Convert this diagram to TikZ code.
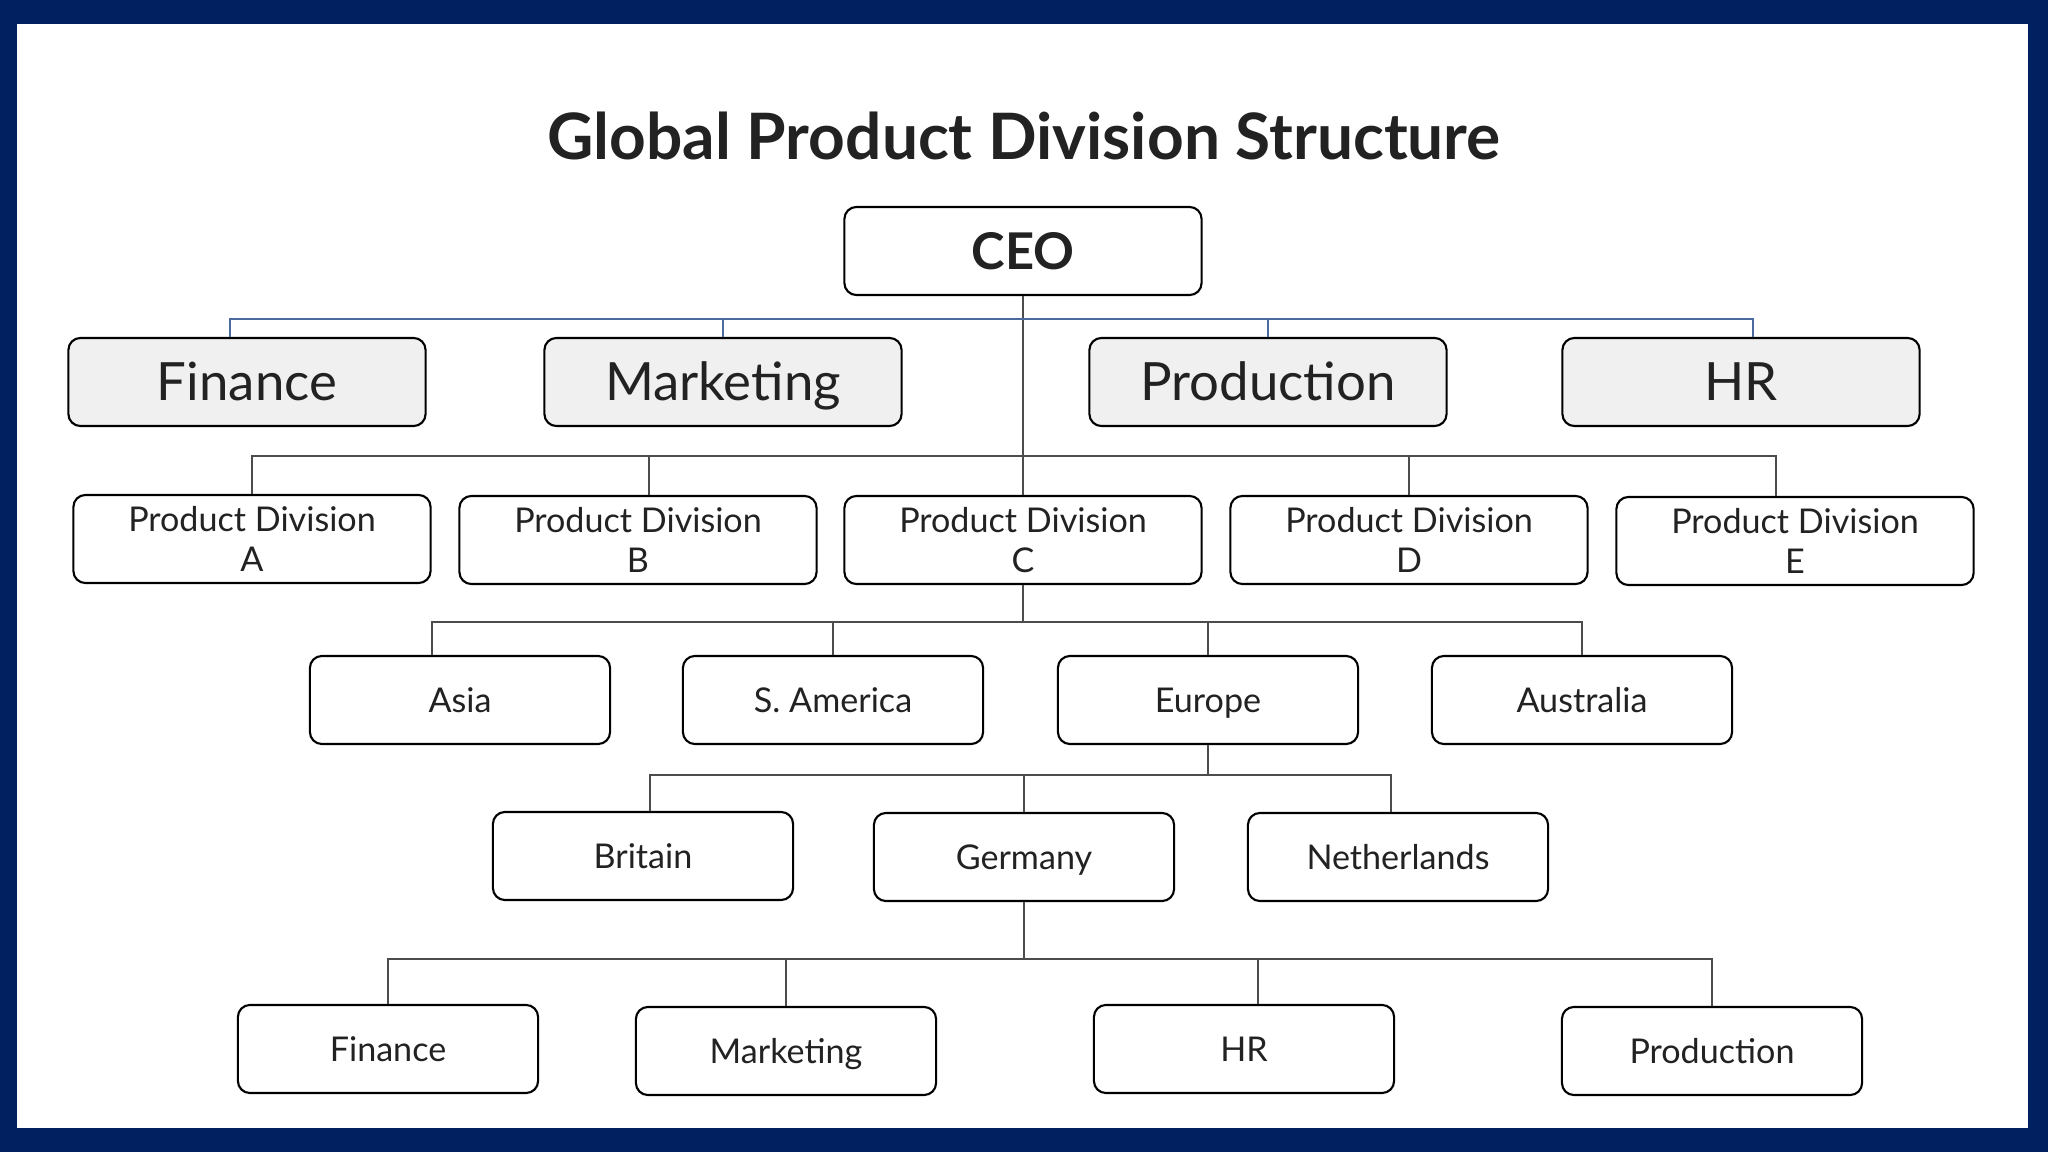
\documentclass[tikz,border=0pt]{standalone}
\usepackage{fontspec}
\setmainfont{Lato}
\definecolor{frame}{RGB}{0,32,96}
\definecolor{barblue}{RGB}{74,106,160}
\definecolor{deptgray}{RGB}{240,240,240}
\definecolor{ink}{RGB}{34,34,34}
\newcommand{\orgbox}[5]{\node[#1](#2) at (#3,-#4) {#5};}

\begin{document}
\begin{tikzpicture}[x=0.01cm,y=0.01cm,
	box/.style={draw=black,rounded corners=0.12cm,line width=0.6pt,text=ink,inner sep=0pt,
		minimum width=3cm,minimum height=0.88cm,font=\fontsize{9.7}{11.3}\selectfont,
		text height=7pt,text depth=0pt},
	wide/.style={box,minimum width=3.57cm},
	dept/.style={wide,fill=deptgray,font=\fontsize{15}{17}\selectfont,text height=10.8pt},
	pdiv/.style={wide,align=center,text height=,text depth=},
	link/.style={draw=black!70,line width=0.35pt},
	bluelink/.style={draw=barblue,line width=0.35pt}]
	\useasboundingbox (0,0) rectangle (2048,-1152);
	\fill[frame] (0,0) rectangle (2048,-1152);
	\fill[white] (17,-24) rectangle (2028,-1128);

	\node[text=ink,font=\fontsize{18.2}{22}\selectfont\bfseries,text height=13.1pt,text depth=0pt] (title) at (1024,-136) {Global Product Division Structure};

	\orgbox{wide,font=\fontsize{14.4}{16}\selectfont\bfseries,text height=10.4pt}{ceo}{1023}{251}{CEO}

	\orgbox{dept}{fin}{247}{382}{Finance}
	\orgbox{dept}{mkt}{723}{382}{Marketing}
	\orgbox{dept}{prod}{1268}{382}{Production}
	\orgbox{dept}{hr}{1741}{382}{HR}

	\orgbox{pdiv}{pda}{252}{539}{Product Division\\A}
	\orgbox{pdiv}{pdb}{638}{540}{Product Division\\B}
	\orgbox{pdiv}{pdc}{1023}{540}{Product Division\\C}
	\orgbox{pdiv}{pdd}{1409}{540}{Product Division\\D}
	\orgbox{pdiv}{pde}{1795}{541}{Product Division\\E}

	\orgbox{box}{asia}{460}{700}{Asia}
	\orgbox{box}{sam}{833}{700}{S. America}
	\orgbox{box}{eur}{1208}{700}{Europe}
	\orgbox{box}{aus}{1582}{700}{Australia}

	\orgbox{box}{brit}{643}{856}{Britain}
	\orgbox{box}{ger}{1024}{857}{Germany}
	\orgbox{box}{neth}{1398}{857}{Netherlands}

	\orgbox{box}{ffin}{388}{1049}{Finance}
	\orgbox{box}{fmkt}{786}{1051}{Marketing}
	\orgbox{box}{fhr}{1244}{1049}{HR}
	\orgbox{box}{fprod}{1712}{1051}{Production}

	% heights of the horizontal bars
	\coordinate (deptbar) at (0,-319);
	\coordinate (pdbar) at (0,-456);
	\coordinate (regbar) at (0,-622);
	\coordinate (ctrybar) at (0,-775);
	\coordinate (fnbar) at (0,-959);

	% CEO down to the departments and divisions
	\draw[link] (ceo.south) -- (pdc.north);
	\draw[bluelink] ([xshift=-0.17cm]fin.north) -- ([xshift=-0.17cm]fin.north |- deptbar) -- ([xshift=0.12cm]hr.north |- deptbar) -- ([xshift=0.12cm]hr.north);
	\draw[bluelink] (mkt.north) -- (mkt.north |- deptbar);
	\draw[bluelink] (prod.north) -- (prod.north |- deptbar);

	\draw[link] (pda.north) -- (pda.north |- pdbar) -- ([xshift=-0.19cm]pde.north |- pdbar) -- ([xshift=-0.19cm]pde.north);
	\draw[link] ([xshift=0.11cm]pdb.north) -- ([xshift=0.11cm]pdb.north |- pdbar);
	\draw[link] (pdd.north) -- (pdd.north |- pdbar);

	% division C to the regions
	\draw[link] (pdc.south) -- (pdc.south |- regbar);
	\draw[link] ([xshift=-0.28cm]asia.north) -- ([xshift=-0.28cm]asia.north |- regbar) -- (aus.north |- regbar) -- (aus.north);
	\draw[link] (sam.north) -- (sam.north |- regbar);
	\draw[link] (eur.north) -- (eur.north |- regbar);

	% Europe to the countries
	\draw[link] (eur.south) -- (eur.south |- ctrybar);
	\draw[link] ([xshift=0.07cm]brit.north) -- ([xshift=0.07cm]brit.north |- ctrybar) -- ([xshift=-0.07cm]neth.north |- ctrybar) -- ([xshift=-0.07cm]neth.north);
	\draw[link] (ger.north) -- (ger.north |- ctrybar);

	% Germany to the functions
	\draw[link] (ger.south) -- (ger.south |- fnbar);
	\draw[link] (ffin.north) -- (ffin.north |- fnbar) -- (fprod.north |- fnbar) -- (fprod.north);
	\draw[link] (fmkt.north) -- (fmkt.north |- fnbar);
	\draw[link] ([xshift=0.14cm]fhr.north) -- ([xshift=0.14cm]fhr.north |- fnbar);
\end{tikzpicture}
\end{document}
